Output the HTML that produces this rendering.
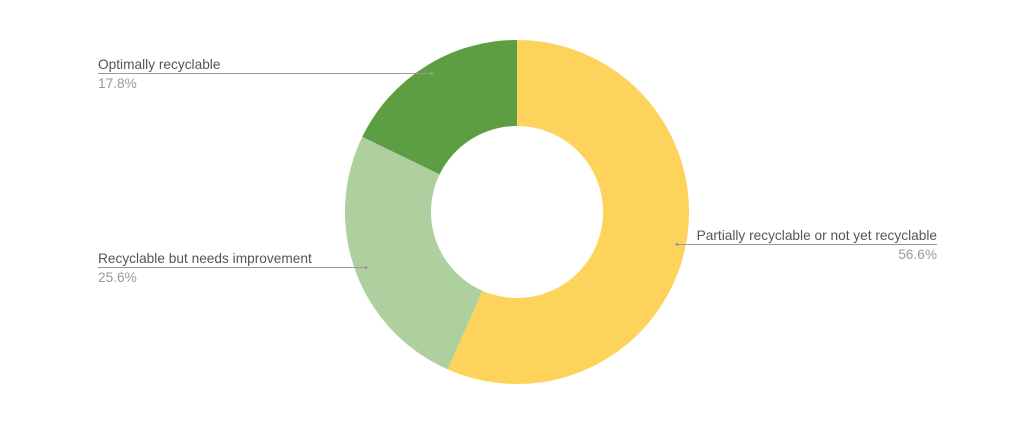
<!DOCTYPE html>
<html><head><style>body{margin:0;background:#fff}svg{display:block}</style></head>
<body>
<svg width="1024" height="427" xmlns="http://www.w3.org/2000/svg" font-family="Liberation Sans, sans-serif" font-size="13.7">
<rect width="1024" height="427" fill="#fff"/>
<path d="M517,40 A172,172 0 1 1 447.7,369.4 L482.4,290.7 A86,86 0 1 0 517,126 Z" fill="#fed35c"/>
<path d="M447.7,369.4 A172,172 0 0 1 362.3,136.8 L439.6,174.4 A86,86 0 0 0 482.4,290.7 Z" fill="#aed09e"/>
<path d="M362.3,136.8 A172,172 0 0 1 517,40 L517,126 A86,86 0 0 0 439.6,174.4 Z" fill="#5e9e43"/>
<g stroke="#999" stroke-width="1" fill="none">
<line x1="98" y1="73.5" x2="432" y2="73.5"/>
<line x1="98" y1="267.5" x2="366" y2="267.5"/>
<line x1="677" y1="244.5" x2="937" y2="244.5"/>
</g>
<g fill="#999"><circle cx="432" cy="73.5" r="1.5"/><circle cx="366" cy="267.5" r="1.5"/><circle cx="677" cy="244.5" r="1.5"/></g>
<g fill="#555">
<text x="98" y="69">Optimally recyclable</text>
<text x="98" y="263">Recyclable but needs improvement</text>
<text x="937" y="240" text-anchor="end">Partially recyclable or not yet recyclable</text>
</g>
<g fill="#999">
<text x="98" y="88">17.8%</text>
<text x="98" y="282">25.6%</text>
<text x="937" y="259" text-anchor="end">56.6%</text>
</g>
</svg>
</body></html>
